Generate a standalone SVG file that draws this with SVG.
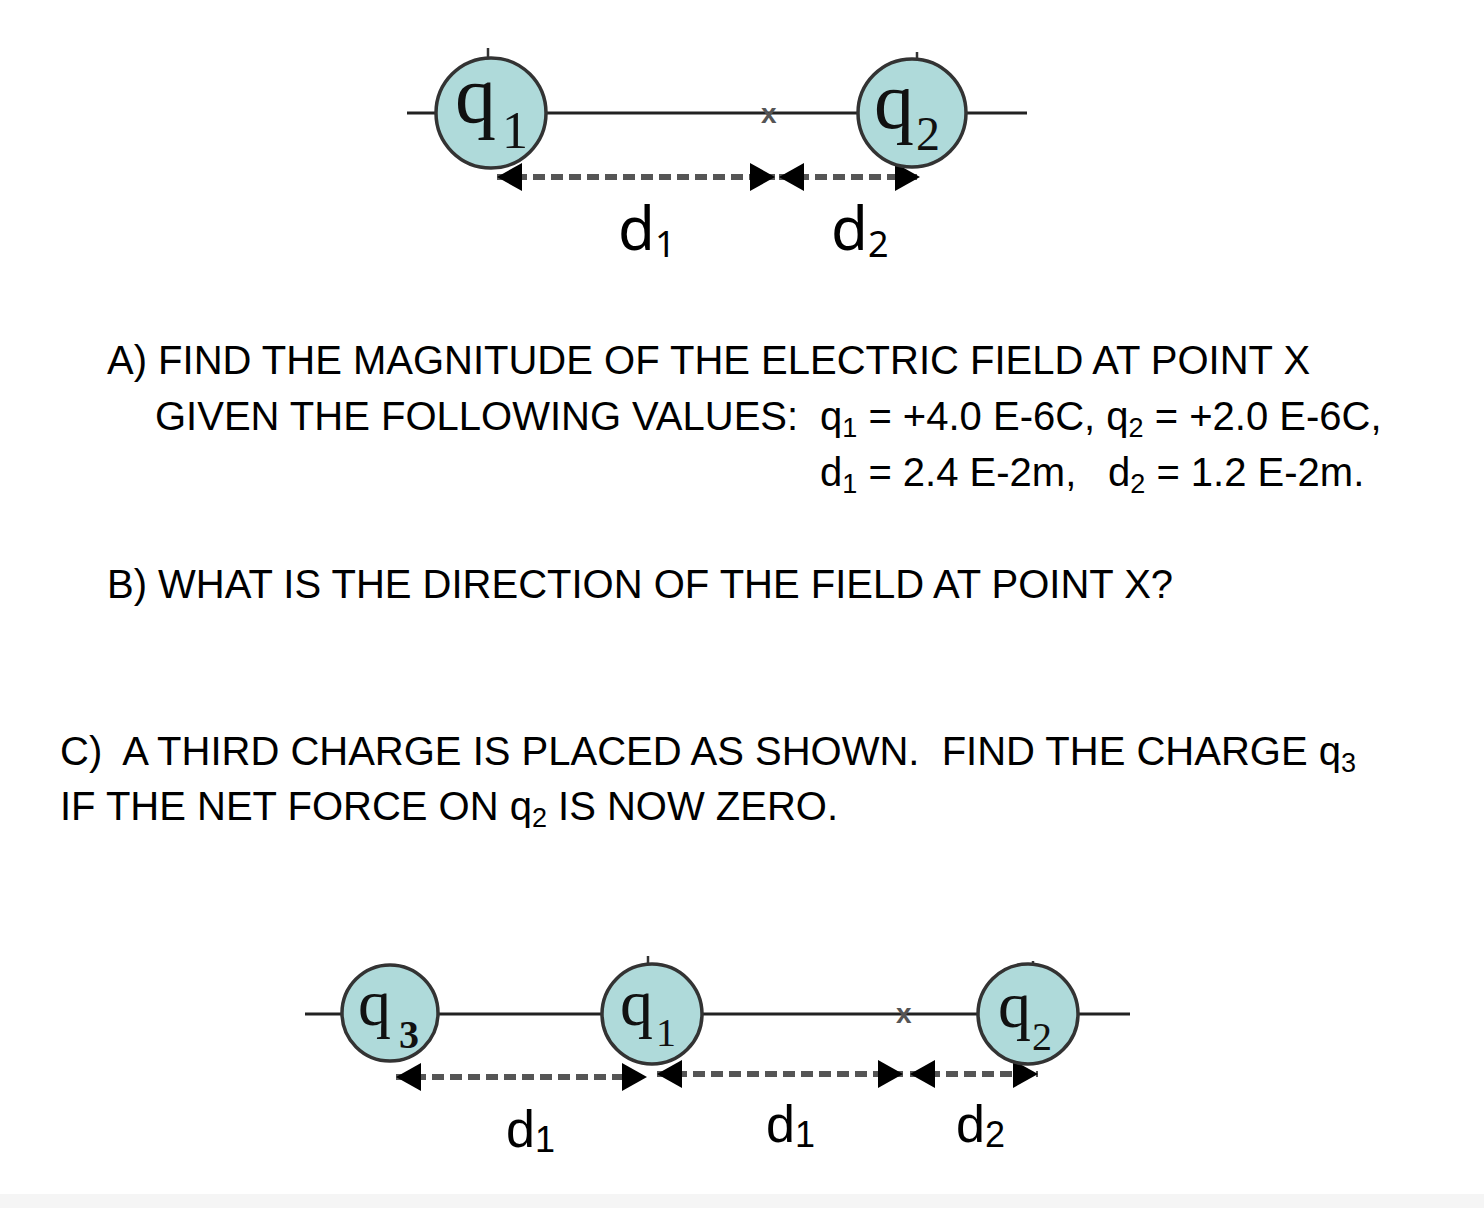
<svg xmlns="http://www.w3.org/2000/svg" width="1484" height="1208" viewBox="0 0 1484 1208">
<defs>
<style>
.bg{fill:#ffffff}
.axis{stroke:#222;stroke-width:3;fill:none}
.tick{stroke:#333;stroke-width:2.5}
.charge{fill:#afdada;stroke:#333;stroke-width:3.5}
.dim{stroke:#555;stroke-width:6;stroke-dasharray:12 6;fill:none;marker-start:url(#ah);marker-end:url(#ah)}
.qs{font-family:"Liberation Serif","Times New Roman",serif;fill:#111}
.xm{font-family:"Liberation Sans",Arial,sans-serif;font-weight:bold;font-size:28px;fill:#555}
.dl{font-family:"Noto Sans","Open Sans",sans-serif;fill:#000}
.dl2{font-family:"Liberation Sans",Arial,sans-serif;fill:#000}
.tx{font-family:"Liberation Sans",Arial,sans-serif;font-size:40px;fill:#000;white-space:pre}
.sub{font-size:27px}
</style>
<marker id="ah" markerUnits="userSpaceOnUse" markerWidth="26" markerHeight="30" refX="25" refY="15" orient="auto-start-reverse">
<path d="M0,1 L25,15 L0,29 z" fill="#000"/>
</marker>
</defs>
<rect class="bg" x="0" y="0" width="1484" height="1208"/>
<rect x="0" y="1194" width="1484" height="14" fill="#f5f5f5"/>

<g id="connectors">
<line class="axis" x1="407" y1="113" x2="1027" y2="113"/>
<line class="dim" x1="497" y1="177" x2="775" y2="177"/>
<line class="dim" x1="779" y1="177" x2="920" y2="177"/>
<line class="axis" x1="305" y1="1014" x2="1130" y2="1014"/>
<line class="dim" x1="396" y1="1077" x2="647" y2="1077"/>
<line class="dim" x1="657" y1="1074" x2="903" y2="1074"/>
<line class="dim" x1="910" y1="1074" x2="1038" y2="1074"/>
</g>

<g id="top-q1">
<line class="tick" x1="488" y1="48" x2="488" y2="60"/>
<circle class="charge" cx="491" cy="113" r="55"/>
<text class="qs" x="455" y="122" font-size="82">q</text>
<text class="qs" x="502" y="148" font-size="52">1</text>
</g>
<g id="top-x"><text class="xm" x="761" y="123">x</text></g>
<g id="top-q2">
<line class="tick" x1="917" y1="52" x2="917" y2="60"/>
<circle class="charge" cx="912" cy="113" r="54"/>
<text class="qs" x="874" y="128" font-size="80">q</text>
<text class="qs" x="916" y="150" font-size="48">2</text>
</g>
<g id="top-d1"><text class="dl" x="618" y="250" font-size="60">d<tspan font-size="36" dy="7">1</tspan></text></g>
<g id="top-d2"><text class="dl" x="831" y="250" font-size="60">d<tspan font-size="36" dy="7">2</tspan></text></g>

<g id="question-a">
<text class="tx" x="107" y="374">A) FIND THE MAGNITUDE OF THE ELECTRIC FIELD AT POINT X</text>
<text class="tx" x="155" y="430">GIVEN THE FOLLOWING VALUES:</text>
<text class="tx" x="820" y="430">q<tspan class="sub" dy="7">1</tspan><tspan dy="-7"> = +4.0 E-6C, q</tspan><tspan class="sub" dy="7">2</tspan><tspan dy="-7"> = +2.0 E-6C,</tspan></text>
<text class="tx" x="820" y="486">d<tspan class="sub" dy="7">1</tspan><tspan dy="-7"> = 2.4 E-2m,</tspan><tspan x="1108">d</tspan><tspan class="sub" dy="7">2</tspan><tspan dy="-7"> = 1.2 E-2m.</tspan></text>
</g>
<g id="question-b">
<text class="tx" x="107" y="598">B) WHAT IS THE DIRECTION OF THE FIELD AT POINT X?</text>
</g>
<g id="question-c">
<text class="tx" x="60" y="765">C)  A THIRD CHARGE IS PLACED AS SHOWN.  FIND THE CHARGE q<tspan class="sub" dy="7">3</tspan></text>
<text class="tx" x="60" y="820">IF THE NET FORCE ON q<tspan class="sub" dy="7">2</tspan><tspan dy="-7"> IS NOW ZERO.</tspan></text>
</g>

<g id="bot-q3">
<circle class="charge" cx="390" cy="1013" r="48"/>
<text class="qs" x="358" y="1025" font-size="66">q</text>
<text class="qs" x="399" y="1048" font-size="40" font-weight="bold">3</text>
</g>
<g id="bot-q1">
<line class="tick" x1="648" y1="956" x2="648" y2="966"/>
<circle class="charge" cx="652" cy="1014" r="50"/>
<text class="qs" x="620" y="1025" font-size="66">q</text>
<text class="qs" x="656" y="1046" font-size="40">1</text>
</g>
<g id="bot-x"><text class="xm" x="896" y="1023">x</text></g>
<g id="bot-q2">
<line class="tick" x1="1033" y1="961" x2="1033" y2="968"/>
<circle class="charge" cx="1028" cy="1014" r="50"/>
<text class="qs" x="998" y="1027" font-size="66">q</text>
<text class="qs" x="1032" y="1050" font-size="40">2</text>
</g>
<g id="bot-d1a"><text class="dl2" x="506" y="1147" font-size="52">d<tspan font-size="36" dy="5">1</tspan></text></g>
<g id="bot-d1b"><text class="dl2" x="766" y="1142" font-size="52">d<tspan font-size="36" dy="5">1</tspan></text></g>
<g id="bot-d2"><text class="dl2" x="956" y="1142" font-size="52">d<tspan font-size="36" dy="5">2</tspan></text></g>
</svg>
